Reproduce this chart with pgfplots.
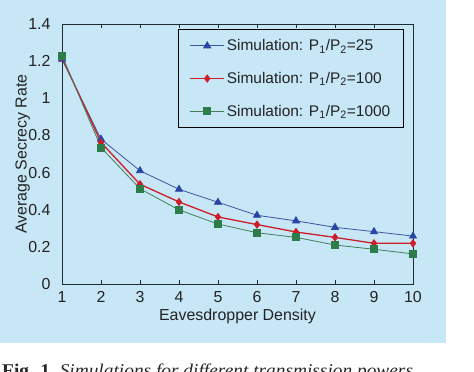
\documentclass[border=0pt]{standalone}
\usepackage{pgfplots}
\pgfplotsset{compat=1.18}
\usepackage{fontspec}
\setmainfont{Liberation Sans}
\newfontfamily\capfont[FakeStretch=1.08]{Liberation Serif}
\definecolor{bgblue}{RGB}{199,231,247}
\definecolor{sblue}{RGB}{40,70,165}
\definecolor{sred}{RGB}{205,30,40}
\definecolor{sgreen}{RGB}{45,125,75}
\definecolor{axc}{RGB}{30,45,50}
\definecolor{txt}{RGB}{35,35,35}
\begin{document}
\begin{tikzpicture}
\useasboundingbox (0,0) rectangle (474bp,-372bp);
\clip (0,0) rectangle (474bp,-372bp);
\fill[bgblue] (0,0) rectangle (446bp,-343bp);
\begin{axis}[
  at={(62bp,-284bp)}, anchor=south west,
  width=351bp, height=260bp, scale only axis,
  xmin=1, xmax=10, ymin=0, ymax=1.4,
  xtick={1,2,3,4,5,6,7,8,9,10},
  ytick={0,0.2,0.4,0.6,0.8,1,1.2,1.4},
  tick align=inside, major tick length=4bp,
  xtick style={axc, line width=0.8pt},
  ytick style={draw=none},
  axis line style={axc, line width=0.9pt},
  font=\fontsize{16}{19}\selectfont,
  /pgf/number format/assume math mode=true,
  tick label style={txt},
  yticklabel style={xshift=-8bp},
  xticklabel style={yshift=-4bp},
  xlabel={Eavesdropper Density},
  ylabel={Average Secrecy Rate},
  xlabel style={at={(axis description cs:0.5,-0.125)}, anchor=center, txt},
  ylabel style={at={(axis description cs:-0.112,0.5)}, anchor=center, txt},
  legend style={at={(axis description cs:0.974,0.981)}, anchor=north east,
    draw=black, line width=1.2pt, fill=bgblue, font=\fontsize{15.5}{18}\selectfont,
    row sep=16bp, inner xsep=11bp, inner ysep=8bp, text=txt},
  legend cell align=left,
  legend image code/.code={
    \draw[mark repeat=2, mark phase=2, #1] plot coordinates {(0cm,0cm) (0.6cm,0cm) (1.2cm,0cm)};
  },
]
\addplot[sblue!75!gray, line width=0.8pt, mark=triangle*, mark size=4bp, mark options={sblue, solid}]
  coordinates {(1,1.21) (2,0.78) (3,0.61) (4,0.51) (5,0.44) (6,0.37) (7,0.34) (8,0.305) (9,0.282) (10,0.258)};
\addlegendentry{Simulation: P\textsubscript{1}/P\textsubscript{2}=25}
\addplot[sred, line width=1.3pt, mark=diamond*, mark size=3.2bp, mark options={sred, solid}]
  coordinates {(1,1.22) (2,0.762) (3,0.537) (4,0.442) (5,0.361) (6,0.32) (7,0.28) (8,0.251) (9,0.219) (10,0.219)};
\addlegendentry{Simulation: P\textsubscript{1}/P\textsubscript{2}=100}
\addplot[sgreen!75!gray, line width=0.8pt, mark=square*, mark size=3.5bp, mark options={sgreen, solid}]
  coordinates {(1,1.23) (2,0.735) (3,0.513) (4,0.399) (5,0.323) (6,0.276) (7,0.251) (8,0.21) (9,0.187) (10,0.162)};
\addlegendentry{Simulation: P\textsubscript{1}/P\textsubscript{2}=1000}
\end{axis}
\node[anchor=base west, inner sep=0pt, font=\capfont\fontsize{18}{21}\selectfont, text=black!85] at (2bp,-376bp)
  {\textbf{Fig. 1}\ \ \textit{Simulations for different transmission powers}};
\end{tikzpicture}
\end{document}
